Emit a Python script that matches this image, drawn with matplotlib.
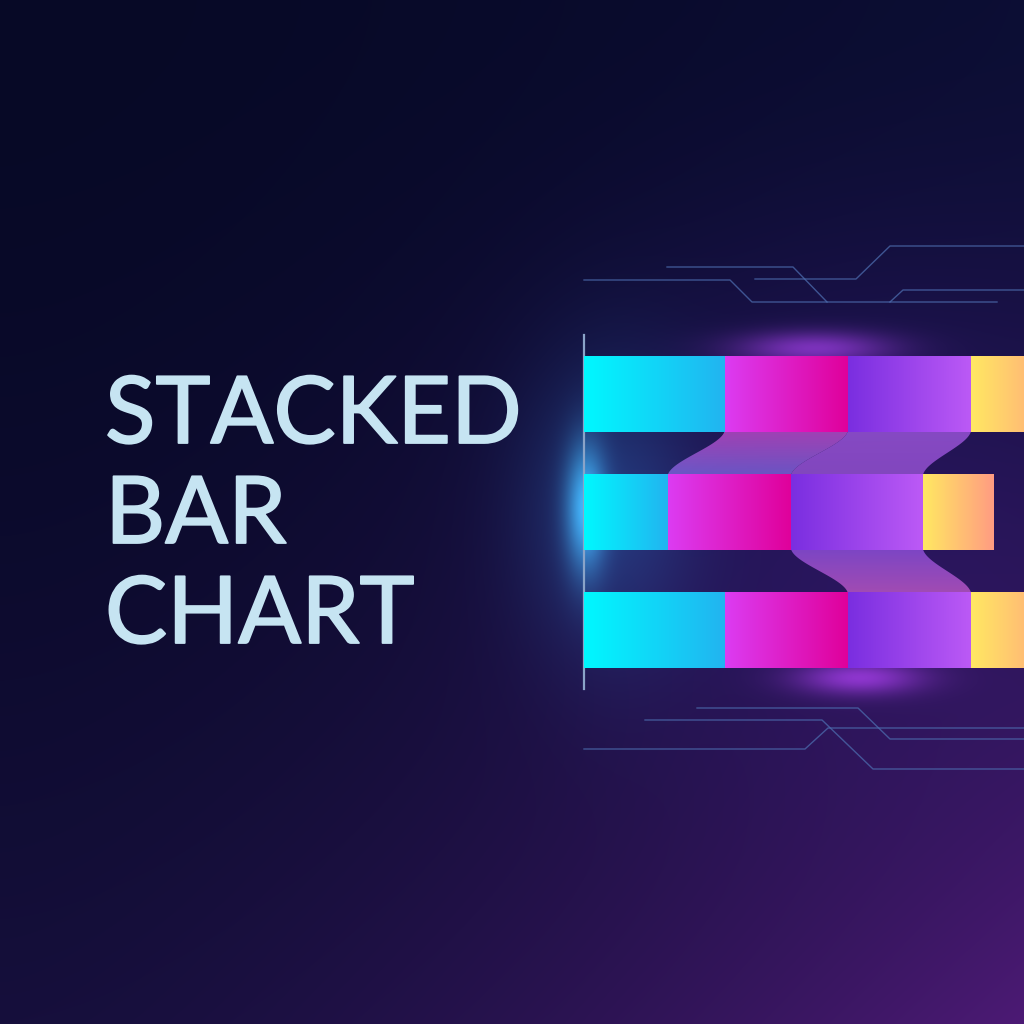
import numpy as np
import matplotlib
matplotlib.use("Agg")
import matplotlib.pyplot as plt
import matplotlib.patheffects as pe
from matplotlib.colors import to_rgb

# ---- data ----
rows = [0, 1, 2]
series = ["A", "B", "C", "D"]
seg_a = [32, 19, 32]
seg_b = [28, 28, 28]
seg_c = [28, 30, 28]
seg_d = [22, 16, 22]
values = [seg_a, seg_b, seg_c, seg_d]

# gradient colours (left -> right) for each series
grad_colors = [("#00f8ff", "#22b4f0"),
               ("#dc3cf2", "#e0009a"),
               ("#7a2ee0", "#bc5af6"),
               ("#ffe862", "#ff9c82")]
title_lines = ["STACKED", "BAR", "CHART"]

# flow links: (row_top, row_bottom, series, colour top, colour bottom)
links = [(0, 1, 1, "#c44ccc", "#7a66e0"),
         (0, 1, 2, "#a058e0", "#9a54d8"),
         (1, 2, 2, "#9052e0", "#c25ac8")]

W = 1024
fig = plt.figure(figsize=(10.24, 10.24), dpi=100)

# ---- background ----
bg = fig.add_axes([0, 0, 1, 1])
bg.set_xlim(0, W)
bg.set_ylim(W, 0)
bg.axis("off")
n = 512
xx, yy = np.meshgrid(np.linspace(0, 1, n), np.linspace(0, 1, n))
tl = np.array(to_rgb("#070926"))
tr = np.array(to_rgb("#0c0e34"))
bl = np.array(to_rgb("#160f3c"))
br = np.array(to_rgb("#4c1a74"))
tx = xx[..., None] ** 1.6
ty = yy[..., None] ** 1.7
img = (tl * (1 - tx) * (1 - ty) + tr * tx * (1 - ty)
       + bl * (1 - tx) * ty + br * tx * ty)


def glow(cx, cy, sx, sy, color, amp):
    px = xx * W
    py = yy * W
    g = np.exp(-(((px - cx) / sx) ** 2 + ((py - cy) / sy) ** 2) / 2)
    return g[..., None] * np.array(to_rgb(color)) * amp


img = img + glow(820, 510, 200, 190, "#1c0c3c", 0.45)
img = img + glow(586, 508, 14, 45, "#40f0ff", 0.55)
img = img + glow(610, 510, 60, 100, "#1a80a8", 0.3)
img = img + glow(815, 348, 55, 12, "#c040e0", 0.5)
img = img + glow(860, 678, 45, 12, "#c040e0", 0.5)
img = np.clip(img, 0, 1)
bg.imshow(img, extent=[0, W, W, 0], aspect="auto", interpolation="bilinear", zorder=0)

# circuit lines
circuits = [
    [(584, 280), (730, 280), (752, 302), (997, 302)],
    [(667, 267), (793, 267), (827, 302)],
    [(755, 279), (856, 279), (890, 246), (1024, 246)],
    [(890, 302), (903, 290), (1024, 290)],
    [(697, 708), (858, 708), (890, 739), (1024, 739)],
    [(645, 720), (822, 720), (873, 769), (1024, 769)],
    [(584, 749), (805, 749), (828, 728), (1024, 728)],
]
for pts in circuits:
    px, py = zip(*pts)
    bg.plot(px, py, color="#4c6cae", lw=1.0, alpha=0.75, zorder=1)

# ---- title ----
for line, base in zip(title_lines, [443, 543, 643]):
    fig.text(105 / W, 1 - base / W, line, fontsize=67, family="Lato",
             color="#c6e4f2", va="baseline", ha="left",
             path_effects=[pe.withStroke(linewidth=1.3, foreground="#c6e4f2")])

# ---- chart ----
ax = fig.add_axes([584 / W, 1 - 689 / W, 440 / W, 354 / W])
ax.set_facecolor("none")
ax.set_xlim(0, 100)
ax.set_ylim(2.5, -0.5)
for s in ["top", "right", "bottom"]:
    ax.spines[s].set_visible(False)
ax.spines["left"].set_color("#8aa4c8")
ax.spines["left"].set_linewidth(1.6)
ax.set_xticks([])
ax.set_yticks([])

bar_h = 0.64
lefts = np.zeros(len(rows))
starts = []
for vals, (c0, c1) in zip(values, grad_colors):
    vals = np.array(vals, dtype=float)
    starts.append(lefts.copy())
    bars = ax.barh(rows, vals, left=lefts, height=bar_h, color="none",
                   edgecolor="none", zorder=3)
    grad = np.linspace(0, 1, 256)[None, :, None]
    cimg = np.array(to_rgb(c0)) * (1 - grad) + np.array(to_rgb(c1)) * grad
    for b in bars:
        x0, y0 = b.get_x(), b.get_y()
        im = ax.imshow(cimg, extent=[x0, x0 + b.get_width(), y0 + b.get_height(), y0],
                       aspect="auto", interpolation="bilinear", zorder=3)
        im.set_clip_path(b)
    lefts = lefts + vals
ends = [s + np.array(v) for s, v in zip(starts, values)]

# flow ribbons between adjacent rows
for r0, r1, k, ca, cb in links:
    ya = r0 + bar_h / 2 - 0.02
    yb = r1 - bar_h / 2 + 0.02
    yy_r = np.linspace(ya, yb, 80)
    t = (yy_r - ya) / (yb - ya)
    s = t * t * (3 - 2 * t)
    xl = starts[k][r0] + (starts[k][r1] - starts[k][r0]) * s
    xr = ends[k][r0] + (ends[k][r1] - ends[k][r0]) * s
    poly = ax.fill_betweenx(yy_r, xl, xr, color="none", lw=0, zorder=2)
    vg = np.linspace(0, 1, 64)[:, None, None]
    rimg = np.array(to_rgb(ca)) * (1 - vg) + np.array(to_rgb(cb)) * vg
    rim = ax.imshow(rimg, extent=[min(xl.min(), xr.min()), max(xl.max(), xr.max()), yb, ya],
                    aspect="auto", interpolation="bilinear", alpha=0.8, zorder=2)
    rim.set_clip_path(poly.get_paths()[0], poly.get_transform())

fig.savefig("out.png", dpi=100)
